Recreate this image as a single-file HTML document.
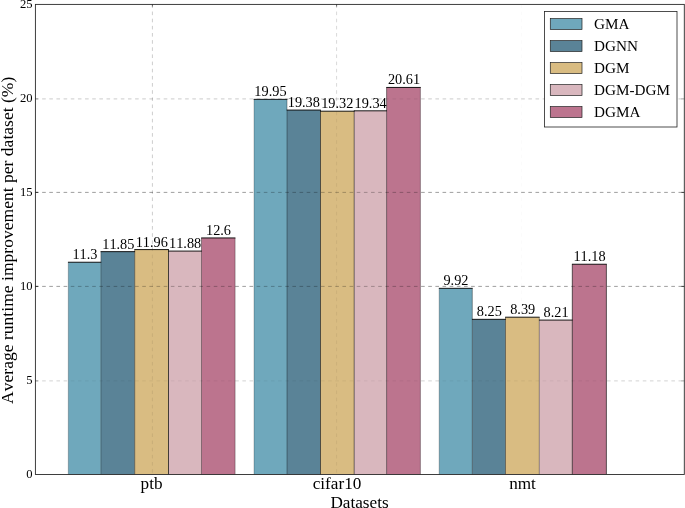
<!DOCTYPE html>
<html><head><meta charset="utf-8"><title>chart</title>
<style>
html,body{margin:0;padding:0;background:#fff;}
svg{display:block;font-family:"Liberation Serif","Times New Roman",serif;fill:#000;font-kerning:none;}
</style></head><body>
<svg width="685" height="508" viewBox="0 0 685 508">
<rect x="0" y="0" width="685" height="508" fill="#fff"/>

<g fill="none" stroke="#000" stroke-width="0.9" stroke-dasharray="3.6 3.55">
<line x1="35" x2="684" y1="380.90" y2="380.90" stroke-opacity="0.12" stroke-width="1.0"/>
<line x1="35" x2="684" y1="286.40" y2="286.40" stroke-opacity="0.17"/>
<line x1="35" x2="684" y1="192.40" y2="192.40" stroke-opacity="0.17"/>
<line x1="35" x2="684" y1="98.90" y2="98.90" stroke-opacity="0.14" stroke-width="1.0"/>
<line x1="152.4" x2="152.4" y1="4.4" y2="474.45" stroke-opacity="0.15"/>
<line x1="336.6" x2="336.6" y1="4.4" y2="474.45" stroke-opacity="0.11"/>
<line x1="521.5" x2="521.5" y1="4.4" y2="474.45" stroke-opacity="0.02"/>
</g>
<g stroke="none">
<rect x="68.30" y="262.24" width="32.60" height="212.21" fill="#6fa8bc"/>
<rect x="100.90" y="251.65" width="33.80" height="222.80" fill="#5a8397"/>
<rect x="134.70" y="249.58" width="33.80" height="224.87" fill="#d9bc82"/>
<rect x="168.50" y="251.08" width="33.00" height="223.37" fill="#d9b7be"/>
<rect x="201.50" y="237.94" width="33.60" height="236.51" fill="#bc748e"/>
<rect x="254.00" y="99.35" width="33.00" height="375.10" fill="#6fa8bc"/>
<rect x="287.00" y="110.07" width="33.50" height="364.38" fill="#5a8397"/>
<rect x="320.50" y="111.20" width="33.70" height="363.25" fill="#d9bc82"/>
<rect x="354.20" y="110.82" width="32.40" height="363.63" fill="#d9b7be"/>
<rect x="386.60" y="87.44" width="33.80" height="387.01" fill="#bc748e"/>
<rect x="439.20" y="288.33" width="33.10" height="186.12" fill="#6fa8bc"/>
<rect x="472.30" y="319.33" width="33.20" height="155.12" fill="#5a8397"/>
<rect x="505.50" y="317.20" width="33.80" height="157.25" fill="#d9bc82"/>
<rect x="539.30" y="320.09" width="33.00" height="154.36" fill="#d9b7be"/>
<rect x="572.30" y="264.24" width="34.10" height="210.21" fill="#bc748e"/>
</g>
<g stroke="#000" fill="none">
<line x1="68.30" x2="68.30" y1="262.24" y2="474.45" stroke-width="0.75" stroke-opacity="0.32"/>
<line x1="100.90" x2="100.90" y1="251.65" y2="474.45" stroke-width="0.75" stroke-opacity="0.4"/>
<line x1="134.70" x2="134.70" y1="249.58" y2="474.45" stroke-width="0.75" stroke-opacity="0.6"/>
<line x1="168.50" x2="168.50" y1="249.58" y2="474.45" stroke-width="0.75" stroke-opacity="0.95"/>
<line x1="201.50" x2="201.50" y1="237.94" y2="474.45" stroke-width="0.75" stroke-opacity="0.5"/>
<line x1="235.10" x2="235.10" y1="237.94" y2="474.45" stroke-width="0.75" stroke-opacity="0.4"/>
<line x1="67.95" x2="101.25" y1="262.24" y2="262.24" stroke-width="1" stroke-opacity="0.9"/>
<line x1="100.55" x2="135.05" y1="251.65" y2="251.65" stroke-width="1" stroke-opacity="0.9"/>
<line x1="134.35" x2="168.85" y1="249.58" y2="249.58" stroke-width="1" stroke-opacity="0.9"/>
<line x1="168.15" x2="201.85" y1="251.08" y2="251.08" stroke-width="1" stroke-opacity="0.9"/>
<line x1="201.15" x2="235.45" y1="237.94" y2="237.94" stroke-width="1" stroke-opacity="0.9"/>
<line x1="254.00" x2="254.00" y1="99.35" y2="474.45" stroke-width="0.75" stroke-opacity="0.3"/>
<line x1="287.00" x2="287.00" y1="99.35" y2="474.45" stroke-width="0.75" stroke-opacity="0.45"/>
<line x1="320.50" x2="320.50" y1="110.07" y2="474.45" stroke-width="0.75" stroke-opacity="0.8"/>
<line x1="354.20" x2="354.20" y1="110.82" y2="474.45" stroke-width="0.75" stroke-opacity="0.7"/>
<line x1="386.60" x2="386.60" y1="87.44" y2="474.45" stroke-width="0.75" stroke-opacity="0.6"/>
<line x1="420.40" x2="420.40" y1="87.44" y2="474.45" stroke-width="0.75" stroke-opacity="0.45"/>
<line x1="253.65" x2="287.35" y1="99.35" y2="99.35" stroke-width="1" stroke-opacity="0.9"/>
<line x1="286.65" x2="320.85" y1="110.07" y2="110.07" stroke-width="1" stroke-opacity="0.9"/>
<line x1="320.15" x2="354.55" y1="111.20" y2="111.20" stroke-width="1" stroke-opacity="0.9"/>
<line x1="353.85" x2="386.95" y1="110.82" y2="110.82" stroke-width="1" stroke-opacity="0.9"/>
<line x1="386.25" x2="420.75" y1="87.44" y2="87.44" stroke-width="1" stroke-opacity="0.9"/>
<line x1="439.20" x2="439.20" y1="288.33" y2="474.45" stroke-width="0.75" stroke-opacity="0.35"/>
<line x1="472.30" x2="472.30" y1="288.33" y2="474.45" stroke-width="0.75" stroke-opacity="0.5"/>
<line x1="505.50" x2="505.50" y1="317.20" y2="474.45" stroke-width="0.75" stroke-opacity="0.6"/>
<line x1="539.30" x2="539.30" y1="317.20" y2="474.45" stroke-width="0.75" stroke-opacity="0.5"/>
<line x1="572.30" x2="572.30" y1="264.24" y2="474.45" stroke-width="0.75" stroke-opacity="0.8"/>
<line x1="606.40" x2="606.40" y1="264.24" y2="474.45" stroke-width="0.75" stroke-opacity="0.8"/>
<line x1="438.85" x2="472.65" y1="288.33" y2="288.33" stroke-width="1" stroke-opacity="0.9"/>
<line x1="471.95" x2="505.85" y1="319.33" y2="319.33" stroke-width="1" stroke-opacity="0.9"/>
<line x1="505.15" x2="539.65" y1="317.20" y2="317.20" stroke-width="1" stroke-opacity="0.9"/>
<line x1="538.95" x2="572.65" y1="320.09" y2="320.09" stroke-width="1" stroke-opacity="0.9"/>
<line x1="571.95" x2="606.75" y1="264.24" y2="264.24" stroke-width="1" stroke-opacity="0.9"/>
</g>
<g fill="none" stroke="#000" stroke-width="0.9" stroke-dasharray="3.6 3.55">
<line x1="35" x2="684" y1="380.90" y2="380.90" stroke-opacity="0.06" stroke-width="1.0"/>
<line x1="35" x2="684" y1="286.40" y2="286.40" stroke-opacity="0.3"/>
<line x1="35" x2="684" y1="192.40" y2="192.40" stroke-opacity="0.3"/>
<line x1="35" x2="684" y1="98.90" y2="98.90" stroke-opacity="0.07" stroke-width="1.0"/>
<line x1="152.4" x2="152.4" y1="4.4" y2="474.45" stroke-opacity="0.09"/>
<line x1="336.6" x2="336.6" y1="4.4" y2="474.45" stroke-opacity="0.07"/>
</g>
<rect x="35.4" y="4.4" width="648.9" height="470.05" fill="none" stroke="#2a2a2a" stroke-width="0.9"/>
<g stroke="#222" stroke-width="0.9">
<line x1="35.4" x2="38.199999999999996" y1="380.90" y2="380.90" stroke-opacity="0.45"/>
<line x1="684.3" x2="681.5" y1="380.90" y2="380.90" stroke-opacity="0.45"/>
<line x1="35.4" x2="38.199999999999996" y1="286.40" y2="286.40" stroke-opacity="1"/>
<line x1="684.3" x2="681.5" y1="286.40" y2="286.40" stroke-opacity="1"/>
<line x1="35.4" x2="38.199999999999996" y1="192.40" y2="192.40" stroke-opacity="1"/>
<line x1="684.3" x2="681.5" y1="192.40" y2="192.40" stroke-opacity="1"/>
<line x1="35.4" x2="38.199999999999996" y1="98.90" y2="98.90" stroke-opacity="0.45"/>
<line x1="684.3" x2="681.5" y1="98.90" y2="98.90" stroke-opacity="0.45"/>
<line x1="152.40" x2="152.40" y1="4.4" y2="6.6000000000000005" stroke-opacity="0.7"/>
<line x1="336.60" x2="336.60" y1="4.4" y2="6.6000000000000005" stroke-opacity="0.7"/>
</g>
<g font-size="12.6" text-anchor="end">
<text x="32.5" y="477.85">0</text>
<text x="32.5" y="383.84">5</text>
<text x="32.5" y="289.83">10</text>
<text x="32.5" y="195.82">15</text>
<text x="32.5" y="101.81">20</text>
<text x="32.5" y="7.80">25</text>
</g>
<g font-size="17.2" text-anchor="middle">
<text x="151.53" y="489.3">ptb</text>
<text x="337.02" y="489.3">cifar10</text>
<text x="522.52" y="489.3">nmt</text>
</g>
<text x="359.5" y="508.2" font-size="17.2" text-anchor="middle">Datasets</text>
<text transform="translate(13.4,240.3) rotate(-90)" font-size="17.5" text-anchor="middle" textLength="327.2" lengthAdjust="spacing">Average runtime improvement per dataset (%)</text>
<g font-size="14.3" text-anchor="middle">
<text x="84.94" y="259.24">11.3</text>
<text x="118.34" y="248.65">11.85</text>
<text x="151.72" y="246.58">11.96</text>
<text x="185.12" y="248.08">11.88</text>
<text x="218.50" y="234.94">12.6</text>
<text x="270.45" y="96.35">19.95</text>
<text x="303.84" y="107.07">19.38</text>
<text x="337.23" y="108.20">19.32</text>
<text x="370.62" y="107.82">19.34</text>
<text x="404.00" y="84.44">20.61</text>
<text x="455.94" y="285.33">9.92</text>
<text x="489.33" y="316.33">8.25</text>
<text x="522.73" y="314.20">8.39</text>
<text x="556.12" y="317.09">8.21</text>
<text x="589.50" y="261.24">11.18</text>
</g>
<rect x="544.5" y="11.5" width="132.5" height="115.5" fill="#fff" stroke="#222" stroke-width="0.8"/>
<rect x="550.3" y="18.60" width="31.7" height="10.9" fill="#6fa8bc" stroke="#222" stroke-width="0.7"/>
<text x="594" y="29.30" font-size="15.2">GMA</text>
<rect x="550.3" y="40.60" width="31.7" height="10.9" fill="#5a8397" stroke="#222" stroke-width="0.7"/>
<text x="594" y="51.30" font-size="15.2">DGNN</text>
<rect x="550.3" y="62.60" width="31.7" height="10.9" fill="#d9bc82" stroke="#222" stroke-width="0.7"/>
<text x="594" y="73.30" font-size="15.2">DGM</text>
<rect x="550.3" y="84.60" width="31.7" height="10.9" fill="#d9b7be" stroke="#222" stroke-width="0.7"/>
<text x="594" y="95.30" font-size="15.2">DGM-DGM</text>
<rect x="550.3" y="106.60" width="31.7" height="10.9" fill="#bc748e" stroke="#222" stroke-width="0.7"/>
<text x="594" y="117.30" font-size="15.2">DGMA</text>
</svg>
</body></html>
